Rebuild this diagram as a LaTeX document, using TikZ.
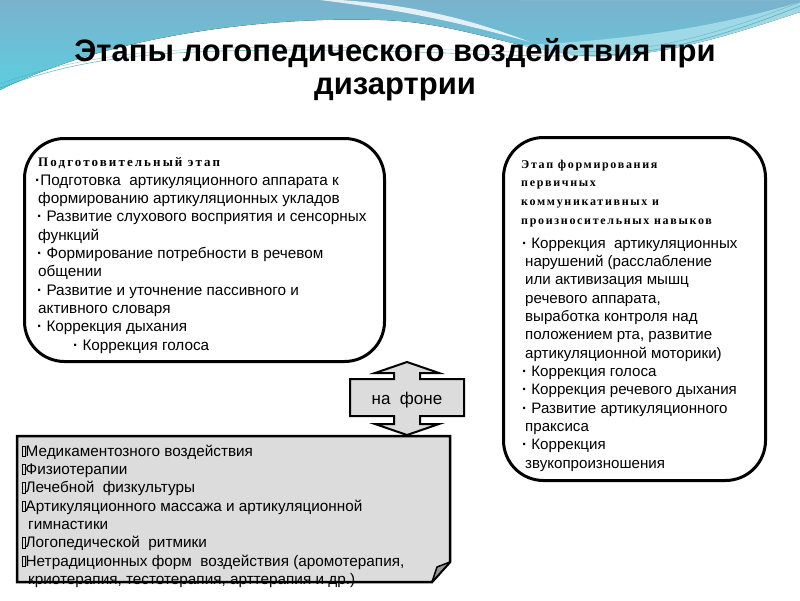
\documentclass[tikz,border=0pt]{standalone}
\usepackage{fontspec}
\setmainfont{Liberation Sans}
\newfontfamily\hdrfontA[LetterSpace=16]{Liberation Serif}
\newfontfamily\hdrfontB[LetterSpace=14]{Liberation Serif}
\definecolor{wavetop}{RGB}{122,178,204}
\definecolor{wavecyan}{RGB}{92,206,224}
\definecolor{wavelight}{RGB}{168,222,234}
\definecolor{waveline}{RGB}{60,160,170}
\definecolor{boxgray}{RGB}{220,220,220}
\definecolor{foldgray}{RGB}{150,150,150}
\newcommand\missbox{{\setlength\fboxrule{0.5pt}\setlength\fboxsep{0pt}\fbox{\rule{0pt}{10pt}\rule{2.5pt}{0pt}}}}
\newcommand\bul{\textbf{·}}
\tikzset{
  item/.style={font=\fontsize{15.3}{17}\selectfont, anchor=base west, inner sep=0pt},
  itemr/.style={font=\fontsize{15.1}{17}\selectfont, anchor=base west, inner sep=0pt},
  hdrA/.style={font=\hdrfontA\bfseries\fontsize{13}{15}\selectfont, anchor=base west, inner sep=0pt},
  hdrB/.style={font=\hdrfontB\bfseries\fontsize{12}{14}\selectfont, anchor=base west, inner sep=0pt},
  titletext/.style={font=\bfseries\fontsize{31}{34}\selectfont, inner sep=0pt, anchor=base},
  stagebox/.style={draw=black, line width=3pt, fill=white, rounded corners=40pt, anchor=north west, inner sep=0pt},
}
\begin{document}
\begin{tikzpicture}[x=1pt,y=-1pt]
\useasboundingbox (0,0) rectangle (800,600);
\fill[white] (0,0) rectangle (800,600);
% background wave
\fill[top color=wavetop, bottom color=wavecyan] (0,0) -- (800,0) -- (800,12)
  .. controls (730,35) and (660,58) .. (590,56)
  .. controls (520,52) and (460,22) .. (380,20)
  .. controls (250,16) and (100,40) .. (0,90) -- cycle;
\fill[wavelight, opacity=0.85] (520,0) -- (800,0) -- (800,12)
  .. controls (730,35) and (660,58) .. (590,56)
  .. controls (560,54) and (540,50) .. (520,45)
  .. controls (650,40) and (740,20) .. (800,2) -- (800,0) -- (560,0) -- cycle;
\fill[white, opacity=0.8] (340,0) .. controls (400,4) and (460,15) .. (530,42)
  .. controls (450,20) and (400,10) .. (320,0) -- cycle;
\draw[waveline, line width=0.6pt, opacity=0.7] (0,88) .. controls (80,58) and (150,50) .. (300,50)
  .. controls (450,50) and (560,62) .. (640,52) .. controls (700,44) and (760,22) .. (800,6);
\draw[waveline, line width=0.5pt, opacity=0.5] (0,84) .. controls (80,55) and (160,47) .. (300,47)
  .. controls (450,47) and (560,58) .. (640,48) .. controls (700,40) and (760,18) .. (800,2);
% title
\node[titletext] (t1) at (395,61) {Этапы логопедического воздействия при};
\node[titletext] (t2) at (395,94) {дизартрии};
% left box
\node[stagebox, minimum width=360pt, minimum height=223pt] (prep) at (23,137) {};
\node[hdrA] (ph) at (38,166) {Подготовительный этап};
\node[item] (p1) at (35,185) {\bul Подготовка\ \ артикуляционного аппарата к};
\node[item] (p2) at (38,203.4) {формированию артикуляционных укладов};
\node[item] (p3) at (37,221.7) {\bul\ Развитие слухового восприятия и сенсорных};
\node[item] (p4) at (38,240) {функций};
\node[item] (p5) at (37,258.4) {\bul\ Формирование потребности в речевом};
\node[item] (p6) at (38,276.8) {общении};
\node[item] (p7) at (37,295) {\bul\ Развитие и уточнение пассивного и};
\node[item] (p8) at (38,313.5) {активного словаря};
\node[item] (p9) at (37,331.8) {\bul\ Коррекция дыхания};
\node[item] (p10) at (73,350.2) {\bul\ Коррекция голоса};
% right box
\node[stagebox, minimum width=262pt, minimum height=343pt] (form) at (502,136) {};
\node[hdrB] (fh1) at (521,168) {Этап формирования};
\node[hdrB] (fh2) at (521,186) {первичных};
\node[hdrB] (fh3) at (521,205) {коммуникативных и};
\node[hdrB] (fh4) at (521,224) {произносительных навыков};
\node[itemr] (f1) at (522,248) {\bul\ Коррекция\ \ артикуляционных};
\node[itemr] (f2) at (525,266.4) {нарушений (расслабление};
\node[itemr] (f3) at (525,284.7) {или активизация мышц};
\node[itemr] (f4) at (525,303) {речевого аппарата,};
\node[itemr] (f5) at (525,321.4) {выработка контроля над};
\node[itemr] (f6) at (525,339.8) {положением рта, развитие};
\node[itemr] (f7) at (525,358.1) {артикуляционной моторики)};
\node[itemr] (f8) at (522,376.5) {\bul\ Коррекция голоса};
\node[itemr] (f9) at (522,394.8) {\bul\ Коррекция речевого дыхания};
\node[itemr] (f10) at (522,413.2) {\bul\ Развитие артикуляционного};
\node[itemr] (f11) at (525,431.5) {праксиса};
\node[itemr] (f12) at (522,449.9) {\bul\ Коррекция};
\node[itemr] (f13) at (525,468.2) {звукопроизношения};
% double arrow
\draw[line width=2pt, fill=boxgray, line join=miter] (407,362) -- (439,373) -- (420,373) -- (420,379)
  -- (464,379) -- (464,416) -- (420,416) -- (420,424) -- (439,424) -- (407,435)
  -- (375,424) -- (394,424) -- (394,416) -- (350,416) -- (350,379) -- (394,379)
  -- (394,373) -- (375,373) -- cycle;
\node[font=\fontsize{17}{20}\selectfont, inner sep=0pt, anchor=base] (bg) at (407,404) {на\ \ фоне};
% bottom box
\fill[boxgray] (17,436) -- (450,436) -- (450,562) -- (432,582) -- (17,582) -- cycle;
\node[item] (b1) at (22,456) {\missbox Медикаментозного воздействия};
\node[item] (b2) at (22,474.4) {\missbox Физиотерапии};
\node[item] (b3) at (22,492.7) {\missbox Лечебной\ \ физкультуры};
\node[item] (b4) at (22,511) {\missbox Артикуляционного массажа и артикуляционной};
\node[item] (b5) at (28,529.4) {гимнастики};
\node[item] (b6) at (22,547.8) {\missbox Логопедической\ \ ритмики};
\node[item] (b7) at (22,566.1) {\missbox Нетрадиционных форм\ \ воздействия (аромотерапия,};
\node[item] (b8) at (28,584.5) {криотерапия, тестотерапия, арттерапия и др.)};
\draw[line width=2.5pt, line join=miter] (17,436) -- (450,436) -- (450,562) -- (432,582) -- (17,582) -- cycle;
\draw[line width=1.5pt, fill=foldgray, line join=round] (432,582) -- (437,567) -- (450,562) -- cycle;
\end{tikzpicture}
\end{document}
